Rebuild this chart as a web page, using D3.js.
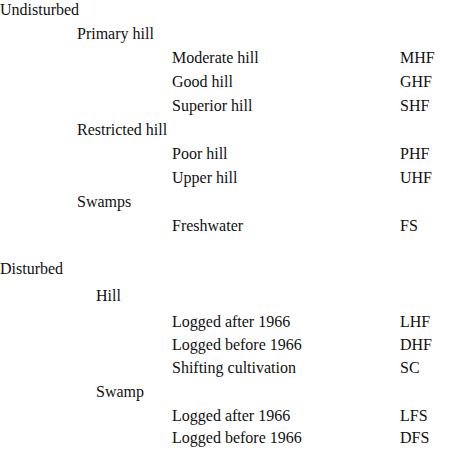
<!DOCTYPE html>
<html>
<head>
<meta charset="utf-8">
<script src="https://cdn.jsdelivr.net/npm/d3@7"></script>
<style>
  body { margin: 0; background: #fff; }
  text { font-family: "Liberation Serif", "DejaVu Serif", serif; font-size: 16px; fill: #111; }
</style>
</head>
<body>
<div id="chart"></div>
<script>
// Table content: label, indent level, code, row number
var labels = ['Undisturbed', 'Primary hill', 'Moderate hill', 'Good hill', 'Superior hill',
  'Restricted hill', 'Poor hill', 'Upper hill', 'Swamps', 'Freshwater',
  'Disturbed', 'Hill', 'Logged after 1966', 'Logged before 1966', 'Shifting cultivation',
  'Swamp', 'Logged after 1966', 'Logged before 1966']
var levels = [0, 1, 2, 2, 2, 1, 2, 2, 1, 2, 0, 1.2, 2, 2, 2, 1.2, 2, 2]
var codes = ['', '', 'MHF', 'GHF', 'SHF', '', 'PHF', 'UHF', '', 'FS',
  '', '', 'LHF', 'DHF', 'SC', '', 'LFS', 'DFS']
var rows = [0, 1, 2, 3, 4, 5, 6, 7, 8, 9, 10.8, 11.9, 13, 13.95, 14.9, 15.9, 16.9, 17.85]

var width = 474
var height = 450

var svg = d3.select('#chart')
  .append('svg')
  .attr('width', width)
  .attr('height', height)

var y = d3.scaleLinear().domain([0, 1]).range([15, 39])
var x = d3.scaleLinear().domain([0, 1, 2]).range([0, 77, 172])
var codeX = 400

var data = labels.map((d, i) => ({ label: d, level: levels[i], code: codes[i], row: rows[i] }))

svg.selectAll('text.label')
  .data(data)
  .enter().append('text')
  .attr('class', 'label')
  .attr('x', d => x(d.level))
  .attr('y', d => y(d.row))
  .text(d => d.label)

svg.selectAll('text.code')
  .data(data.filter(d => d.code))
  .enter().append('text')
  .attr('class', 'code')
  .attr('x', codeX)
  .attr('y', d => y(d.row))
  .text(d => d.code)
</script>
</body>
</html>
